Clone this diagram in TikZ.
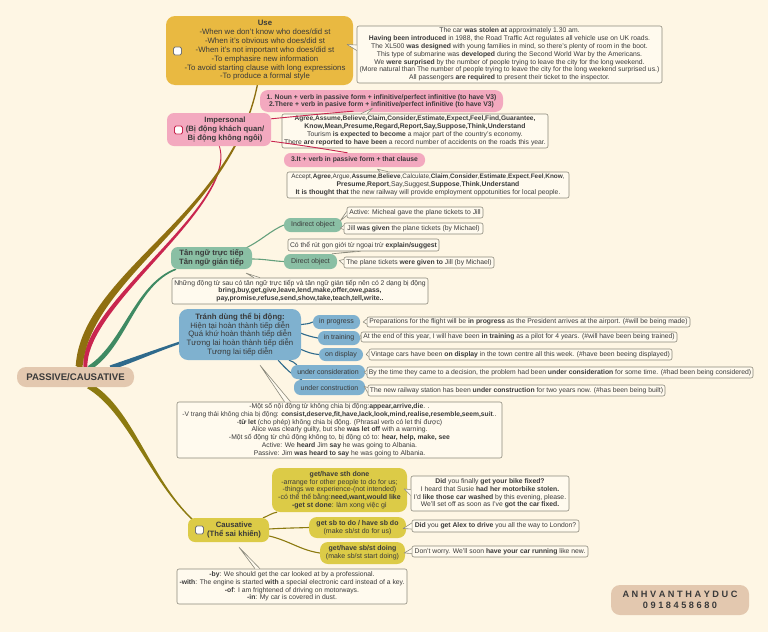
\documentclass[tikz,border=0pt]{standalone}
\usepackage{fontspec}
\setmainfont{Liberation Sans}
\usetikzlibrary{calc,backgrounds}
\definecolor{paper}{HTML}{FEF6E4}
\definecolor{notefill}{HTML}{FFFAEE}
\definecolor{noteline}{HTML}{8C8A7C}
\definecolor{ink}{HTML}{3A3A3A}
\definecolor{rootc}{HTML}{E3C8AF}
\definecolor{usec}{HTML}{E9B941}
\definecolor{pinkc}{HTML}{F3A9BF}
\definecolor{greenc}{HTML}{8ABFA4}
\definecolor{bluec}{HTML}{7FB1CF}
\definecolor{yelc}{HTML}{DCCB47}
\definecolor{brownb}{HTML}{8F6F10}
\definecolor{redb}{HTML}{C9254F}
\definecolor{greenb}{HTML}{3F8A63}
\definecolor{blueb}{HTML}{2F6A8C}
\definecolor{oliveb}{HTML}{8C7A10}
\tikzset{
  box/.style={inner sep=0pt,align=center,text=ink,anchor=center},
  notebox/.style={box,draw=noteline,fill=notefill,line width=.6pt,rounded corners=2pt,font=\fontsize{6.8}{7.8}\selectfont},
  topic/.style={box,rounded corners=7pt,font=\fontsize{7.8}{8.9}\selectfont},
  small/.style={box,rounded corners=6.5pt,font=\fontsize{7}{7.7}\selectfont},
  cline/.style={draw=noteline,line width=.6pt,line join=round},
  sec/.style={line width=1.1pt,line cap=round},
  tick/.style={draw=#1,fill=white,line width=.9pt,rounded corners=1.5pt,minimum size=8pt,inner sep=0pt}
}
\newcommand\bx[7]{\node[#1,minimum width={#5-#3},minimum height={#6-#4}] (#2) at ({(#3+#5)/2},{(#4+#6)/2}) {#7};}
\newcommand\callout[3]{\fill[notefill] (#2)--(#1)--(#3)--cycle; \draw[cline] (#2)--(#1)--(#3);}
\newcommand\branch[7]{\fill[#1] ($(#2)!#6pt!90:(#5)$) .. controls ($(#3)!#6pt!90:(#5)$) and ($(#4)!#7pt!-90:(#2)$) .. ($(#5)!#7pt!-90:(#2)$) -- ($(#5)!#7pt!90:(#2)$) .. controls ($(#4)!#7pt!90:(#2)$) and ($(#3)!#6pt!-90:(#5)$) .. ($(#2)!#6pt!-90:(#5)$) -- cycle;}
\newcommand\shifted[2]{\hbox{\hskip #1pt\begin{tabular}{@{}c@{}}#2\end{tabular}}}
\begin{document}
\begin{tikzpicture}[x=1pt,y=-1pt]
\begin{scope}[on background layer]
\fill[paper] (0,0) rectangle (768,632);
\end{scope}
\useasboundingbox (0,0) rectangle (768,632);
% ---- nodes
\bx{box,fill=rootc,rounded corners=9pt,font=\fontsize{9.6}{11}\selectfont\bfseries}{root}{17}{367}{134}{387}{PASSIVE/CAUSATIVE}
\bx{topic,fill=usec,rounded corners=9pt}{use}{166}{16}{353}{85}{\shifted{11}{\textbf{Use}\\-When we don't know who does/did st\\-When it's obvious who does/did st\\-When it's not important who does/did st\\-To emphasire new information\\-To avoid starting clause with long expressions\\-To produce a formal style}}
\node[tick=ink!70] (usetick) at (177.5,51) {};
\bx{notebox}{usenote}{357}{26}{662}{83}{The car \textbf{was stolen at} approximately 1.30 am.\\\textbf{Having been introduced} in 1988, the Road Traffic Act regulates all vehicle use on UK roads.\\The XL500 \textbf{was designed} with young families in mind, so there's plenty of room in the boot.\\This type of submarine was \textbf{developed} during the Second World War by the Americans.\\We \textbf{were surprised} by the number of people trying to leave the city for the long weekend.\\(More natural than The number of people trying to leave the city for the long weekend surprised us.)\\All passengers \textbf{are required} to present their ticket to the inspector.}
\bx{topic,fill=pinkc,font=\fontsize{7.7}{8.9}\selectfont\bfseries}{imp}{167}{113}{271}{146}{\shifted{12}{Impersonal\\(Bị động khách quan/\\Bị động không ngôi)}}
\node[tick=redb] (imptick) at (178.5,130) {};
\bx{notebox}{impnote}{282}{114}{548}{148}{{\fontsize{6.6}{7.8}\selectfont\textbf{Agree,Assume,Believe,Claim,Consider,Estimate,Expect,Feel,Find,Guarantee,}}\\\textbf{Know,Mean,Presume,Regard,Report,Say,Suppose,Think,Understand}\\Tourism \textbf{is expected to become} a major part of the country's economy.\\There \textbf{are reported to have been} a record number of accidents on the roads this year.}
\bx{small,fill=pinkc,rounded corners=8pt,font=\fontsize{6.8}{7.5}\selectfont\bfseries}{pinka}{260}{90}{503}{112}{1. Noun + verb in passive form + infinitive/perfect infinitive (to have V3)\\2.There + verb in pasive form + infinitive/perfect infinitive (to have V3)}
\bx{small,fill=pinkc,font=\fontsize{6.8}{7.5}\selectfont\bfseries}{pinkb}{284}{153}{425}{167}{3.It + verb in passive form + that clause}
\bx{notebox}{pinknote}{287}{172}{569}{198}{{\fontsize{6.4}{7.8}\selectfont Accept,\textbf{Agree},Argue,\textbf{Assume},\textbf{Believe},Calculate,\textbf{Claim},\textbf{Consider},\textbf{Estimate},\textbf{Expect},\textbf{Feel},\textbf{Know},}\\\textbf{Presume},\textbf{Report},Say,Suggest,\textbf{Suppose},\textbf{Think},\textbf{Understand}\\\textbf{It is thought that} the new railway will provide employment oppotunities for local people.}
\bx{topic,fill=greenc,font=\fontsize{7.7}{9}\selectfont\bfseries}{tan}{171}{247}{252}{269}{Tân ngữ trực tiếp\\Tân ngữ gián tiếp}
\bx{small,fill=greenc}{ind}{284}{218}{342}{232}{Indirect object}
\bx{small,fill=greenc}{dir}{284}{254}{337}{269}{Direct object}
\bx{notebox}{na}{347}{207}{483}{218}{Active: Micheal gave the plane tickets to Jill}
\bx{notebox}{nb}{344}{223}{483}{234}{Jill \textbf{was given} the plane tickets (by Michael)}
\bx{notebox}{nc}{288}{239}{439}{251}{Có thể rút gọn giới từ ngoại trừ \textbf{explain/suggest}}
\bx{notebox}{nd}{344}{257}{494}{268}{The plane tickets \textbf{were given to} Jill (by Michael)}
\bx{notebox}{tannote}{172}{278}{428}{304}{Những động từ sau có tân ngữ trực tiếp và tân ngữ gián tiếp nên có 2 dạng bị động\\\textbf{bring,buy,get,give,leave,lend,make,offer,owe,pass,}\\\textbf{pay,promise,refuse,send,show,take,teach,tell,write..}}
\bx{topic,fill=bluec,rounded corners=9pt,font=\fontsize{7.8}{8.6}\selectfont}{tr}{179}{309}{301}{360}{\textbf{Tránh dùng thể bị động:}\\Hiện tại hoàn thành tiếp diễn\\Quá khứ hoàn thành tiếp diễn\\Tương lai hoàn thành tiếp diễn\\Tương lai tiếp diễn}
\bx{small,fill=bluec}{ba}{313}{315}{360}{329}{in progress}
\bx{small,fill=bluec}{bb}{318}{331}{360}{345}{in training}
\bx{small,fill=bluec}{bc}{319}{348}{363}{361}{on display}
\bx{small,fill=bluec}{bd}{291}{365}{365}{379}{under consideration}
\bx{small,fill=bluec}{be}{294}{380}{365}{395}{under construction}
\bx{notebox}{ta}{367}{317}{690}{327}{Preparations for the flight will be \textbf{in progress} as the President arrives at the airport. (\#will be being made)}
\bx{notebox}{tb}{361}{332}{677}{342}{At the end of this year, I will have been \textbf{in training} as a pilot for 4 years. (\#will have been being trained)}
\bx{notebox}{tc}{369}{349}{672}{360}{Vintage cars have been \textbf{on display} in the town centre all this week. (\#have been beeing displayed)}
\bx{notebox}{td}{367}{367}{753}{378}{By the time they came to a decision, the problem had been \textbf{under consideration} for some time. (\#had been being considered)}
\bx{notebox}{te}{368}{385}{665}{396}{The new railway station has been \textbf{under construction} for two years now. (\#has been being built)}
\bx{notebox}{trnote}{177}{402}{502}{458}{-Một số nội động từ không chia bị động:\textbf{appear,arrive,die}. .\\{\fontsize{6.7}{7.8}\selectfont -V trạng thái không chia bị động: \textbf{consist,deserve,fit,have,lack,look,mind,realise,resemble,seem,suit}..}\\-\textbf{từ let} (cho phép) không chia bị động. (Phrasal verb có let thì được)\\Alice was clearly guilty, but she \textbf{was let off} with a warning.\\-Một số động từ chủ động không to, bị động có to: \textbf{hear, help, make, see}\\Active: We \textbf{heard} Jim \textbf{say} he was going to Albania.\\Passive: Jim \textbf{was heard to say} he was going to Albania.}
\bx{topic,fill=yelc,font=\fontsize{7.7}{8.8}\selectfont\bfseries}{cau}{188}{518}{269}{542}{\shifted{11}{Causative\\(Thể sai khiến)}}
\node[tick=ink!70] (cautick) at (199.5,530) {};
\bx{small,fill=yelc,rounded corners=8pt}{ya}{272}{468}{407}{512}{\textbf{get/have sth done}\\-arrange for other people to do for us;\\-things we experience-(not intended)\\-có thể thế bằng:\textbf{need,want,would like}\\\textbf{-get st done}: làm xong việc gì}
\bx{small,fill=yelc,rounded corners=8pt}{yb}{309}{517}{406}{538}{\textbf{get sb to do / have sb do}\\(make sb/st do for us)}
\bx{small,fill=yelc,rounded corners=8pt}{yc}{320}{542}{405}{564}{\textbf{get/have sb/st doing}\\(make sb/st start doing)}
\bx{notebox}{ua}{411}{476}{569}{511}{\textbf{Did} you finally \textbf{get your bike fixed?}\\I heard that Susie \textbf{had her motorbike stolen.}\\I'd \textbf{like those car washed} by this evening, please.\\We'll set off as soon as I've \textbf{got the car fixed.}}
\bx{notebox}{ub}{412}{520}{579}{532}{\textbf{Did} you \textbf{get Alex to drive} you all the way to London?}
\bx{notebox}{uc}{412}{546}{588}{557}{Don't worry. We'll soon \textbf{have your car running} like new.}
\bx{notebox}{caunote}{177}{569}{407}{604}{\textbf{-by}: We should get the car looked at by a professional.\\\textbf{-with}: The engine is started \textbf{with} a special electronic card instead of a key.\\\textbf{-of}: I am frightened of driving on motorways.\\\textbf{-in}: My car is covered in dust.}
\bx{box,fill=rootc,rounded corners=9pt,font=\fontsize{9.2}{11}\selectfont\bfseries}{brand}{611}{585}{749}{615}{A N H V A N T H A Y D U C\\0 9 1 8 4 5 8 6 8 0}
% ---- callouts
\callout{$(use.east)+(-6,-6)$}{$(usenote.west)+(0,-9.5)$}{$(usenote.west)+(0,-4)$}
\callout{$(pinka.south)+(-9,-4)$}{$(impnote.north)+(-54,0)$}{$(impnote.north)+(-48,0)$}
\callout{$(pinkb.south)+(23,2)$}{$(pinknote.north)+(-48,0)$}{$(pinknote.north)+(-40,0)$}
\callout{$(ind.north east)+(-2,3)$}{$(na.west)+(0,-1)$}{$(na.west)+(0,3)$}
\callout{$(ind.south east)+(-2,-4)$}{$(nb.west)+(0,-3)$}{$(nb.west)+(0,1)$}
\callout{$(dir.north east)+(-5,0)$}{$(nc.south)+(-3,0)$}{$(nc.south)+(-9,0)$}
\callout{$(dir.east)+(2,-1)$}{$(nd.west)+(0,-3)$}{$(nd.west)+(0,2)$}
\callout{$(tan.south east)+(-6,4)$}{$(tannote.north)+(-40,0)$}{$(tannote.north)+(-46,0)$}
\callout{$(ba.east)+(3,0)$}{$(ta.west)+(0,-3)$}{$(ta.west)+(0,2)$}
\callout{$(bb.east)+(1,0)$}{$(tb.west)+(0,-2)$}{$(tb.west)+(0,2)$}
\callout{$(bc.east)+(3,0)$}{$(tc.west)+(0,-3)$}{$(tc.west)+(0,2)$}
\callout{$(bd.east)+(-1,0)$}{$(td.west)+(0,-2)$}{$(td.west)+(0,2)$}
\callout{$(be.east)+(-1,-1)$}{$(te.west)+(0,-3)$}{$(te.west)+(0,2)$}
\callout{$(tr.south)+(20,5)$}{$(trnote.north)+(-55,0)$}{$(trnote.north)+(-49,0)$}
\callout{$(ya.east)+(-3,-1)$}{$(ua.west)+(0,-4)$}{$(ua.west)+(0,2)$}
\callout{$(yb.east)+(-3,1)$}{$(ub.west)+(0,-3)$}{$(ub.west)+(0,3)$}
\callout{$(yc.east)+(-1,0)$}{$(uc.west)+(0,-3)$}{$(uc.west)+(0,2)$}
\callout{$(cau.south)+(10.5,5)$}{$(caunote.north)+(-37,0)$}{$(caunote.north)+(-32,0)$}
% ---- connectors over the notes
\draw[redb,line width=.9pt] (imp.north east) ++(0,6) .. controls (300,116) and (330,113) .. ($(pinka.south)+(-28,-1)$);
\draw[redb,line width=.9pt] (imp.south east) ++(0,-5) .. controls (300,145) and (325,149) .. ($(pinkb.north)+(-7,0)$);
% ---- branches behind
\begin{scope}[on background layer]
\coordinate (r1) at ($(root.north)+(3.5,1)$);
\coordinate (r2) at ($(root.north)+(10,1)$);
\coordinate (r3) at ($(root.north)+(14,1)$);
\coordinate (r4) at ($(root.north)+(35,1)$);
\coordinate (r5) at ($(root.south)+(14,-1)$);
\coordinate (e1) at ($(use.south)+(-2,-1)$);
\coordinate (e2) at ($(imp.south)+(0,-1)$);
\coordinate (e3) at ($(tan.south west)+(5,0)$);
\coordinate (e4) at ($(tr.west)+(3,7.5)$);
\coordinate (e5) at ($(cau.north west)+(5,2)$);
\branch{oliveb}{r5}{130,410}{150,480}{e5}{3.2}{.7}
\branch{redb}{r2}{80,305}{240,205}{e2}{2.4}{.6}
\branch{brownb}{r1}{85,275}{232,215}{e1}{3.9}{.7}
\branch{greenb}{r3}{125,345}{135,285}{e3}{2.4}{.9}
\branch{blueb}{r4}{133,360}{158,350}{e4}{2.4}{1.2}
\draw[sec,greenb!80!paper] ($(tan.north east)+(-6,1)$) .. controls (262,240) and (270,231) .. (ind.west);
\draw[sec,greenb!80!paper] ($(tan.east)+(0,1)$) .. controls (265,259) and (272,261) .. (dir.west);
\draw[sec,blueb] ($(tr.east)+(0,-10)$) .. controls (305,324) and (309,324) .. (ba.west);
\draw[sec,blueb] ($(tr.east)+(-2,-2)$) .. controls (305,335) and (312,337) .. (bb.west);
\draw[sec,blueb] ($(tr.east)+(0,15)$) .. controls (307,352) and (312,354) .. (bc.west);
\draw[sec,blueb] ($(tr.south east)+(-12,0)$) .. controls (292,361) and (295,363) .. ($(bd.north west)+(6,0)$);
\draw[sec,blueb] ($(tr.south east)+(-23,0)$) .. controls (285,368) and (293,376) .. ($(be.north west)+(8,0)$);
\draw[sec,oliveb] ($(cau.north east)+(-6,0)$) .. controls (268,516) and (272,513) .. ($(ya.south west)+(5,0)$);
\draw[sec,oliveb] ($(cau.east)+(0,-1)$) .. controls (285,528) and (295,528) .. (yb.west);
\draw[sec,oliveb] ($(cau.east)+(0,6)$) .. controls (290,541) and (300,550) .. (yc.west);
\end{scope}
\end{tikzpicture}
\end{document}
